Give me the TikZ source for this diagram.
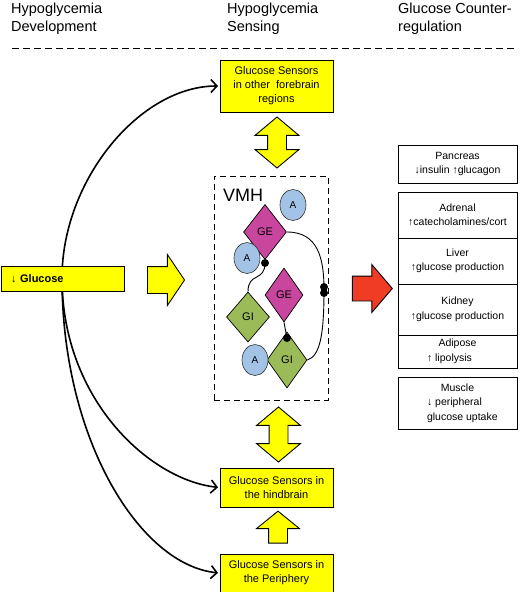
\documentclass[tikz,border=0pt]{standalone}
\usepackage{fontspec}
\setmainfont{Liberation Sans}
\usepackage{tikz}
\usetikzlibrary{arrows.meta,shapes.geometric,shapes.arrows}
\definecolor{hypoyellow}{HTML}{FFFF00}
\definecolor{hypopink}{HTML}{C9469E}
\definecolor{hypogreen}{HTML}{9BBB59}
\definecolor{hypoblue}{HTML}{A3C3E6}
\definecolor{hypored}{HTML}{F03C24}
\newcommand{\orgmid}[1]{\makebox[61pt]{#1}}
\newcommand{\orgleft}[1]{\makebox[61pt][l]{#1}}

\begin{document}
\begin{tikzpicture}[x=1pt,y=-1pt,
  colhead/.style={anchor=north west,align=left,inner sep=0pt,font=\fontsize{14.5}{18}\selectfont},
  sensorbox/.style={draw,line width=1pt,fill=hypoyellow,minimum width=113pt,inner sep=0pt,align=center,font=\fontsize{11}{14}\selectfont},
  organbox/.style={draw,line width=0.9pt,fill=white,minimum width=119pt,inner sep=0pt,align=center,font=\fontsize{10.5}{14.5}\selectfont},
  bigarrow/.style={draw,line width=0.9pt,inner xsep=0pt,fill=hypoyellow},
  vmhcell/.style={diamond,draw,line width=0.7pt,inner sep=0pt,font=\fontsize{11}{12}\selectfont},
  astro/.style={ellipse,draw=black!80,line width=0.6pt,fill=hypoblue,minimum width=26pt,minimum height=31pt,inner sep=0pt,font=\fontsize{10}{11}\selectfont},
  senseline/.style={line width=1.6pt,-{Straight Barb[length=6pt,width=13pt,line width=1.6pt]},shorten >=1.5pt},
]
  \fill[white] (0,0) rectangle (520,592);
  \useasboundingbox (0,0) rectangle (520,592);

  \node[colhead] (hdev) at (11,3) {Hypoglycemia\\Development};
  \node[colhead] (hsens) at (227,3) {Hypoglycemia\\Sensing};
  \node[colhead] (hreg) at (398,3) {Glucose Counter-\\regulation};
  \draw[line width=1pt,dash pattern=on 7pt off 4pt] (12,48) -- (518,48);

  \node[sensorbox,minimum height=52pt] (fore) at (276.5,86) {Glucose Sensors\\in other\ \ forebrain\\regions};
  \node[sensorbox,minimum height=39pt] (hind) at (276.5,487.5) {Glucose Sensors in\\the hindbrain};
  \node[sensorbox,minimum height=38pt] (peri) at (276.5,573) {Glucose Sensors in\\the Periphery};

  \node[bigarrow,double arrow,rotate=90,inner ysep=9pt,minimum height=51pt,double arrow head extend=12.5pt,double arrow tip angle=100] (foreflow) at (277,142.5) {};
  \node[bigarrow,double arrow,rotate=90,inner ysep=9pt,minimum height=55pt,double arrow head extend=12.5pt,double arrow tip angle=100] (hindflow) at (278.5,434.5) {};
  \node[bigarrow,single arrow,rotate=90,inner ysep=9pt,minimum height=32pt,single arrow head extend=12pt,single arrow tip angle=102] (periflow) at (278,531) {};
  \node[bigarrow,single arrow,inner ysep=13pt,minimum height=37pt,single arrow head extend=12pt,single arrow tip angle=112] (inflow) at (161.5,280) {};
  \node[bigarrow,single arrow,fill=hypored,inner ysep=12pt,minimum height=40pt,single arrow head extend=11.5pt,single arrow tip angle=99] (outflow) at (367,288.5) {};

  \coordinate (gsrc) at (62,278);
  \draw[senseline] (gsrc) .. controls (62,180) and (140,86) .. (fore.west);
  \draw[senseline] (gsrc) .. controls (62,400) and (150,480) .. (hind.west);
  \draw[senseline] (gsrc) .. controls (62,440) and (140,565) .. (peri.west);
  \node[draw,line width=1pt,fill=hypoyellow,anchor=west,minimum height=25pt,inner xsep=10pt,inner ysep=0pt,text width=103pt,align=left,font=\bfseries\fontsize{11}{13}\selectfont] (gluc) at (0.5,278.5) {↓ Glucose};

  \node[draw,line width=0.9pt,dash pattern=on 6pt off 4pt,minimum width=114pt,minimum height=224pt,inner sep=0pt] (vmh) at (271,288) {};
  \node[anchor=north west,inner sep=0pt,font=\fontsize{18}{18}\selectfont] (vmhname) at (223,189) {VMH};
  \node[vmhcell,fill=hypopink,minimum width=43pt,minimum height=55pt] (ge1) at (265,232) {GE};
  \node[vmhcell,fill=hypopink,minimum width=38pt,minimum height=54pt] (ge2) at (284,295) {GE};
  \node[vmhcell,fill=hypogreen,minimum width=43pt,minimum height=50pt] (gi1) at (248,317) {GI};
  \node[vmhcell,fill=hypogreen,minimum width=40pt,minimum height=56pt] (gi2) at (287,360) {GI};
  \coordinate (syn1) at (265,263);
  \coordinate (syn2) at (287,338);
  \coordinate (loopmid) at (324,290);
  \draw[line width=0.9pt] (ge1.east) .. controls (318,232) and (324,258) .. (loopmid) .. controls (324,335) and (320,356) .. (gi2.east);
  \draw[line width=0.9pt] (syn1) .. controls (265,282) and (248,272) .. (gi1.north);
  \draw[line width=0.9pt] (ge2.south) -- (syn2);
  \fill (syn1) circle[radius=4pt];
  \fill (syn2) circle[radius=4pt];
  \fill (324,287) circle[radius=4pt];
  \fill (324,293) circle[radius=4pt];
  \node[astro] (astro1) at (293,205) {A};
  \node[astro] (astro2) at (247,258) {A};
  \node[astro] (astro3) at (255,360) {A};

  \node[organbox,minimum height=38pt] (pancreas) at (457.5,164) {Pancreas\\↓insulin ↑glucagon};
  \node[organbox,minimum height=46pt] (adrenal) at (457.5,215) {Adrenal\\↑catecholamines/cort};
  \node[organbox,minimum height=46pt] (liver) at (457.5,261) {Liver\\↑glucose production};
  \node[organbox,minimum height=51pt] (kidney) at (457.5,309.5) {Kidney\\↑glucose production};
  \node[organbox,minimum height=33pt] (adipose) at (457.5,351.5) {\orgmid{Adipose}\\\orgleft{↑ lipolysis}};
  \node[organbox,minimum height=52pt] (muscle) at (457.5,403) {\orgmid{Muscle}\\\orgleft{↓ peripheral}\\\orgleft{glucose uptake}};
\end{tikzpicture}
\end{document}
